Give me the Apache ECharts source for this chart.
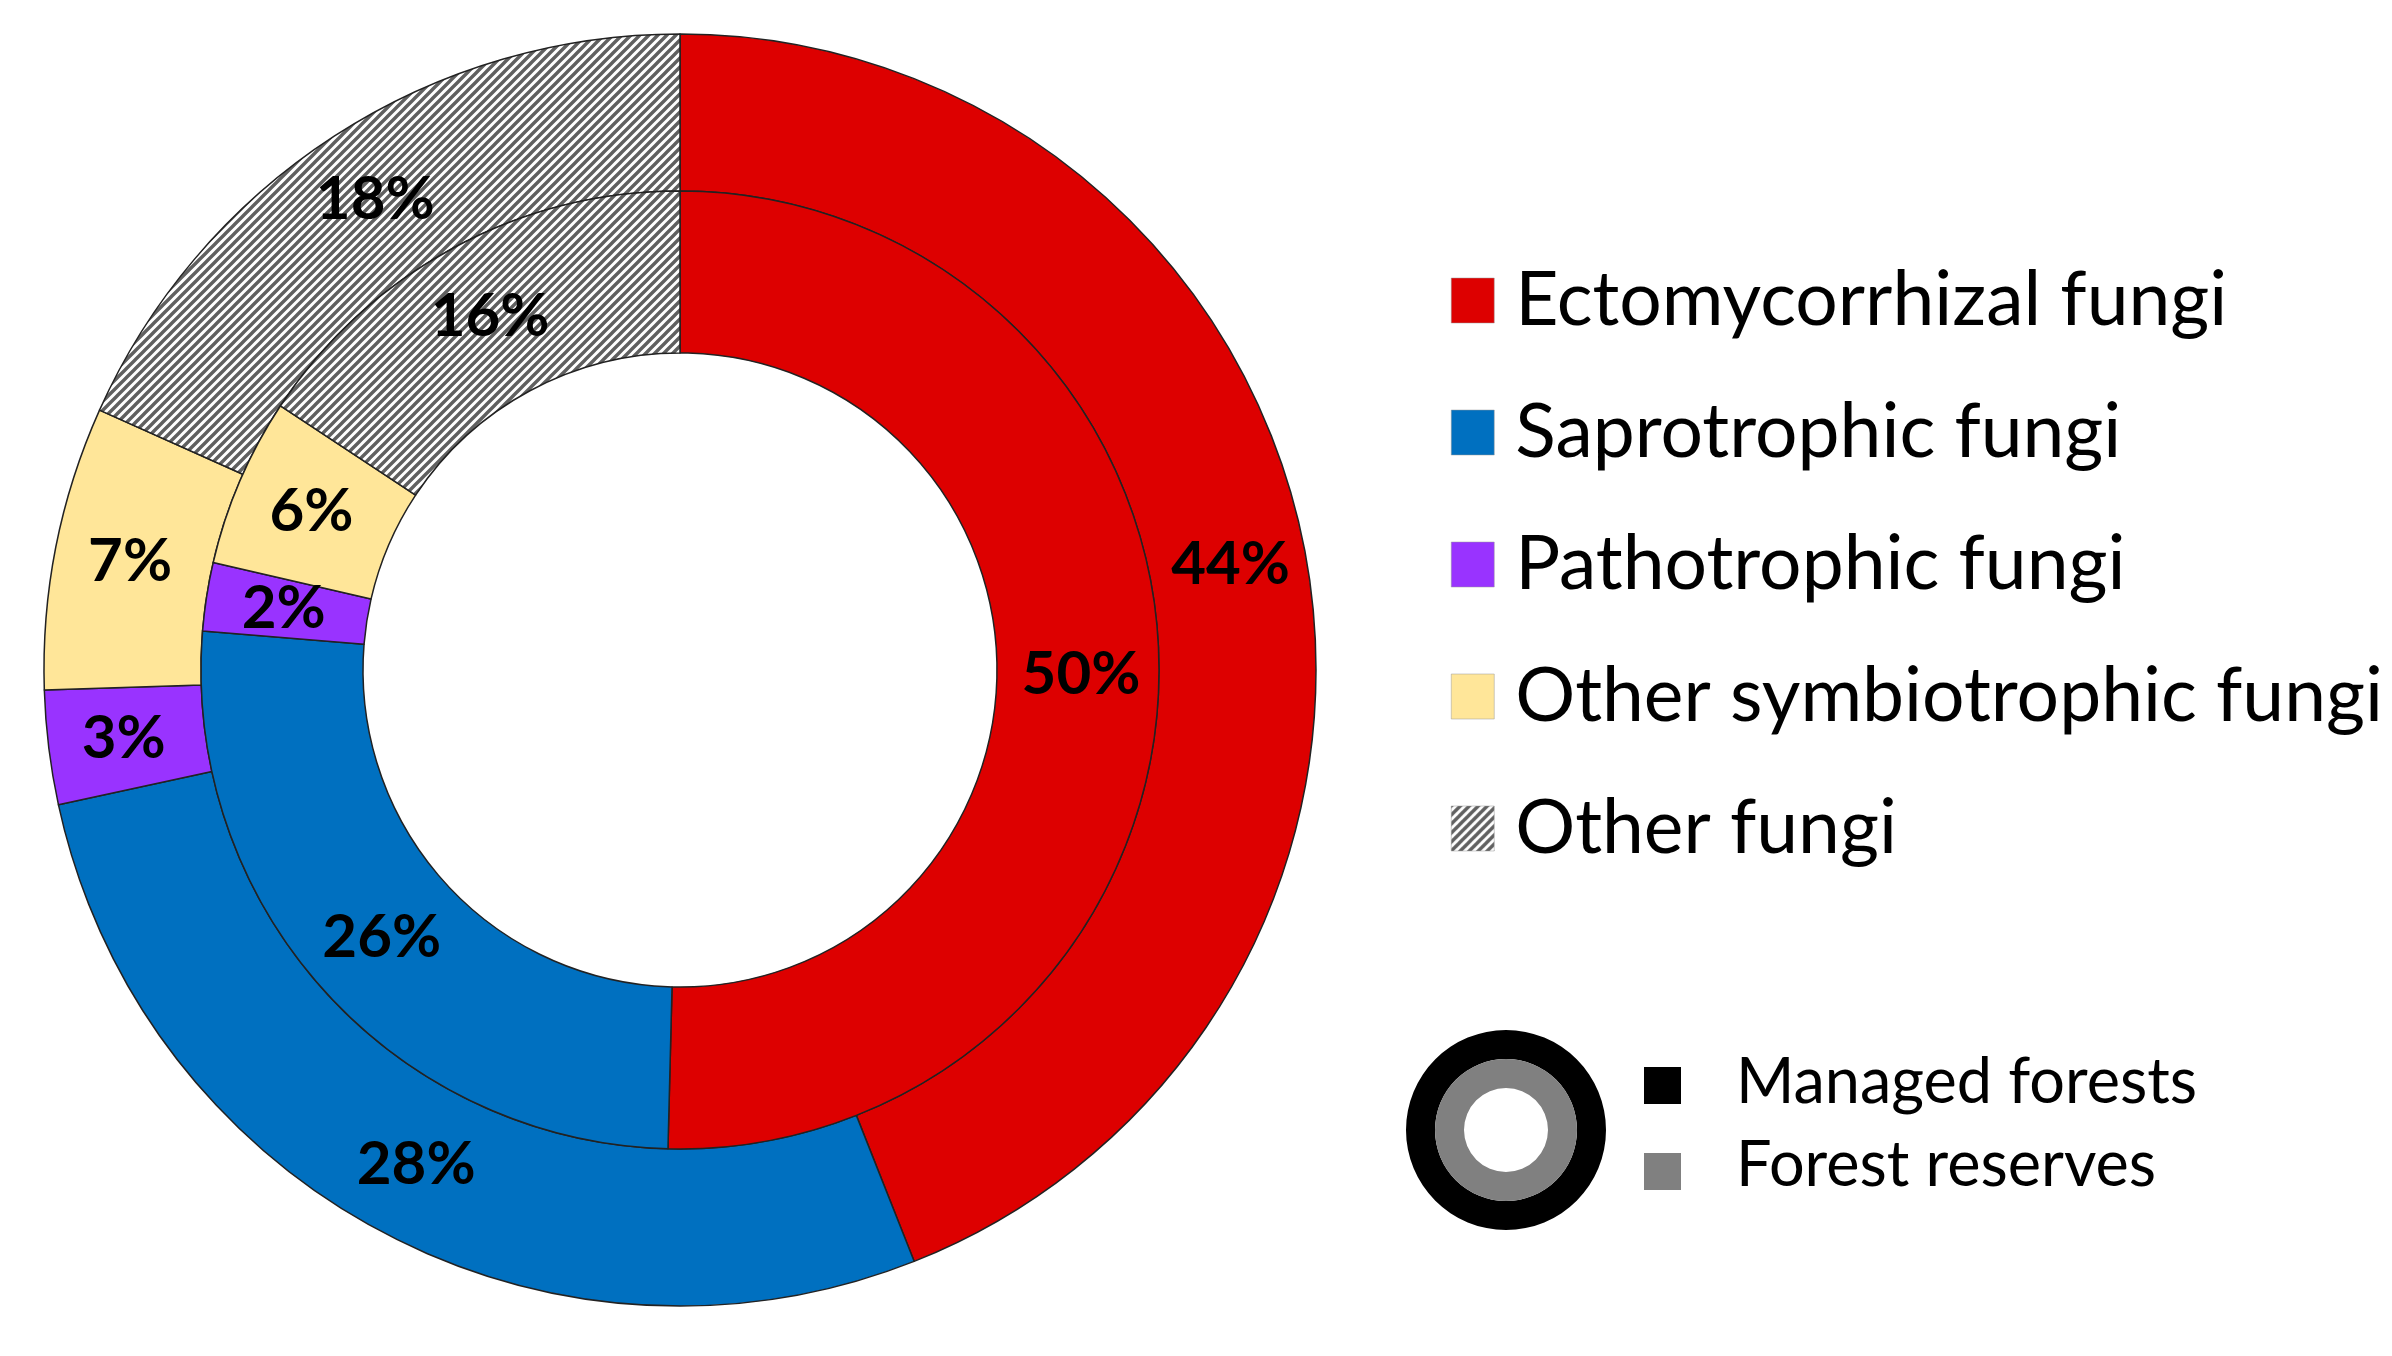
<!DOCTYPE html>
<html>
<head>
<meta charset="utf-8">
<script src="https://cdn.jsdelivr.net/npm/echarts@6/dist/echarts.min.js"></script>
<style>
html,body{margin:0;padding:0;background:#fff;}
#chart{width:2392px;height:1356px;}
</style>
</head>
<body>
<div id="chart"></div>
<script>
const categories = ['Ectomycorrhizal fungi', 'Saprotrophic fungi', 'Pathotrophic fungi', 'Other symbiotrophic fungi', 'Other fungi'];
const managedForests = [44.0, 27.6, 2.9, 7.2, 18.3];
const forestReserves = [50.4, 25.9, 2.3, 5.7, 15.7];
const ringLegendLabels = ['Managed forests', 'Forest reserves'];

// hatch pattern for "Other fungi"
function makeHatch() {
  const c = document.createElement('canvas');
  const s = 9;
  c.width = s; c.height = s;
  const ctx = c.getContext('2d');
  ctx.fillStyle = '#ffffff';
  ctx.fillRect(0, 0, s, s);
  ctx.strokeStyle = '#606060';
  ctx.lineWidth = 3.4;
  ctx.beginPath();
  ctx.moveTo(-3, 3); ctx.lineTo(3, -3);
  ctx.moveTo(0, s); ctx.lineTo(s, 0);
  ctx.moveTo(s - 3, s + 3); ctx.lineTo(s + 3, s - 3);
  ctx.stroke();
  return c;
}
const hatch = makeHatch();
const fills = ['#dd0000', '#0070c0', '#9933ff', '#ffe699', { image: hatch, repeat: 'repeat' }];

function buildData(values) {
  return categories.map((name, i) => ({
    name: name,
    value: values[i],
    itemStyle: { color: fills[i] }
  }));
}

const labelStyle = {
  show: true,
  position: 'inside',
  formatter: p => Math.round(p.value) + '%',
  fontFamily: 'Lato',
  fontWeight: 'bold',
  fontSize: 60,
  color: '#000'
};
const itemBorder = { borderColor: '#222', borderWidth: 1.5 };

const chart = echarts.init(document.getElementById('chart'), null, { renderer: 'canvas' });
const cx = 1506, cy = 1130;
chart.setOption({
  backgroundColor: '#fff',
  animation: false,
  legend: {
    orient: 'vertical',
    left: 1446,
    top: 258,
    data: categories,
    icon: 'rect',
    itemWidth: 43,
    itemHeight: 45,
    itemGap: 57,
    selectedMode: false,
    itemStyle: { borderWidth: 0.5, borderColor: '#999' },
    textStyle: {
      fontFamily: 'Lato',
      fontSize: 75,
      color: '#000',
      padding: [0, 0, 0, 16]
    }
  },
  series: [
    {
      name: ringLegendLabels[0],
      type: 'pie',
      center: [680, 670],
      radius: [479, 636],
      startAngle: 90,
      clockwise: true,
      avoidLabelOverlap: false,
      label: labelStyle,
      labelLine: { show: false },
      itemStyle: itemBorder,
      emphasis: { disabled: true },
      data: buildData(managedForests)
    },
    {
      name: ringLegendLabels[1],
      type: 'pie',
      center: [680, 670],
      radius: [317, 479],
      startAngle: 90,
      clockwise: true,
      avoidLabelOverlap: false,
      label: labelStyle,
      labelLine: { show: false },
      itemStyle: itemBorder,
      emphasis: { disabled: true },
      data: buildData(forestReserves)
    }
  ],
  graphic: [
    { type: 'ring', shape: { cx: cx, cy: cy, r: 100, r0: 71 }, style: { fill: '#000' } },
    { type: 'ring', shape: { cx: cx, cy: cy, r: 71, r0: 42 }, style: { fill: '#808080' } },
    { type: 'rect', shape: { x: 1644, y: 1067, width: 37, height: 37 }, style: { fill: '#000' } },
    { type: 'rect', shape: { x: 1644, y: 1153, width: 37, height: 37 }, style: { fill: '#808080' } },
    { type: 'text', x: 1736, y: 1083, style: { text: ringLegendLabels[0], font: '63px Lato', fill: '#000', verticalAlign: 'middle' } },
    { type: 'text', x: 1736, y: 1166, style: { text: ringLegendLabels[1], font: '63px Lato', fill: '#000', verticalAlign: 'middle' } }
  ]
});
</script>
</body>
</html>
